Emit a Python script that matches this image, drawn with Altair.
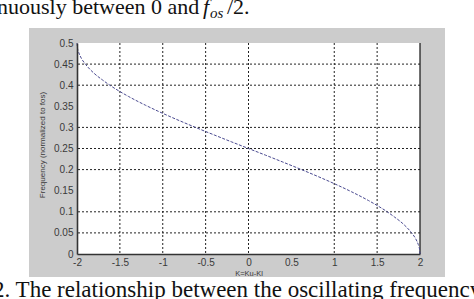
import altair as alt
import pandas as pd

# curve values
k_vals = [-2, -1.995, -1.99, -1.98, -1.95, -1.9, -1.8, -1.7, -1.6, -1.5, -1.4, -1.2, -1.0,
          -0.8, -0.6, -0.4, -0.2, 0, 0.2, 0.4, 0.6, 0.8, 1.0, 1.2, 1.4, 1.5, 1.6,
          1.7, 1.8, 1.9, 1.95, 1.98, 1.99, 1.995, 2]
f_vals = [0.5, 0.4887, 0.484, 0.4775, 0.464, 0.4495, 0.428, 0.412, 0.3976, 0.385, 0.3734,
          0.3524, 0.3333, 0.3155, 0.2985, 0.2821, 0.2659, 0.25, 0.2341, 0.2179, 0.2015,
          0.1845, 0.1667, 0.1476, 0.1266, 0.115, 0.1024, 0.088, 0.072, 0.0505, 0.036,
          0.0225, 0.016, 0.0113, 0]

x_ticks = [-2, -1.5, -1, -0.5, 0, 0.5, 1, 1.5, 2]
y_ticks = [0, 0.05, 0.1, 0.15, 0.2, 0.25, 0.3, 0.35, 0.4, 0.45, 0.5]
grid_x = [-1.5, -1, -0.5, 0, 1, 1.5]
grid_y = [0.05, 0.1, 0.2, 0.25, 0.3, 0.4, 0.45]

x_title = "K=Ku-Kl"
y_title = "Frequency (normalized to fos)"

top_text = "nuously between 0 and"
bottom_text = "2. The relationship between the oscillating frequency"

W, H = 343, 211

xs = alt.Scale(domain=[-2, 2], nice=False, zero=False)
ys = alt.Scale(domain=[0, 0.5], nice=False, zero=False)

curve = pd.DataFrame({"K": k_vals, "F": f_vals})

label_col = "#3a3a3a"

xax = alt.Axis(
    values=x_ticks, labelExpr="'' + datum.value", grid=False, ticks=False,
    domainColor="#333333", domainWidth=1.6, labelFont="Liberation Sans",
    labelFontSize=10, labelColor=label_col, labelPadding=3, labelFlush=False,
    labelOverlap=False,
    title=x_title, titleFont="Liberation Sans", titleFontSize=7.5,
    titleFontWeight="normal", titleColor=label_col, titlePadding=2, zindex=1)
yax = alt.Axis(
    values=y_ticks, labelExpr="'' + datum.value", grid=False, ticks=False,
    domainColor="#333333", domainWidth=1.6, labelFont="Liberation Sans",
    labelFontSize=10, labelColor=label_col, labelPadding=4, labelOverlap=False,
    labelFlush=False,
    title=y_title, titleFont="Liberation Sans", titleFontSize=8,
    titleFontWeight="normal", titleColor=label_col, titleX=-35, titleY=H / 2 - 4,
    titleAlign="center", titleBaseline="middle", titleAngle=270, zindex=1)

gray = alt.Chart(pd.DataFrame({"a": [0]})).mark_rect(color="#cccccc").encode(
    x=alt.value(-48), x2=alt.value(368), y=alt.value(-15), y2=alt.value(234))

white = alt.Chart(pd.DataFrame({"x1": [-2], "x2": [2], "y1": [0], "y2": [0.5]})).mark_rect(
    color="white").encode(
    x=alt.X("x1:Q", scale=xs, axis=xax), x2="x2:Q",
    y=alt.Y("y1:Q", scale=ys, axis=yax), y2="y2:Q")

vgrid = alt.Chart(pd.DataFrame({"g": grid_x})).mark_rule(
    color="#222222", strokeDash=[2, 2], strokeWidth=1).encode(
    x=alt.X("g:Q", scale=xs, axis=xax))
hgrid = alt.Chart(pd.DataFrame({"g": grid_y})).mark_rule(
    color="#222222", strokeDash=[2, 2], strokeWidth=1).encode(
    y=alt.Y("g:Q", scale=ys, axis=yax))
right_edge = alt.Chart(pd.DataFrame({"g": [2]})).mark_rule(
    color="#111111", strokeWidth=1.2).encode(x=alt.X("g:Q", scale=xs, axis=xax))

line = alt.Chart(curve).mark_line(
    color="#4a4a90", strokeWidth=1, strokeDash=[3, 1.5], interpolate="monotone").encode(
    x=alt.X("K:Q", scale=xs, axis=xax), y=alt.Y("F:Q", scale=ys, axis=yax))

serif = "Liberation Serif"
t1 = alt.Chart(pd.DataFrame({"t": [top_text]})).mark_text(
    font=serif, fontSize=22, align="left", baseline="alphabetic", color="#111111").encode(
    x=alt.value(-80), y=alt.value(-29), text="t:N")
t2 = alt.Chart(pd.DataFrame({"t": ["f"]})).mark_text(
    font=serif, fontSize=22, fontStyle="italic", align="left", baseline="alphabetic",
    color="#111111").encode(x=alt.value(126), y=alt.value(-29), text="t:N")
t3 = alt.Chart(pd.DataFrame({"t": ["os"]})).mark_text(
    font=serif, fontSize=15, fontStyle="italic", align="left", baseline="alphabetic",
    color="#111111").encode(x=alt.value(133), y=alt.value(-25), text="t:N")
t4 = alt.Chart(pd.DataFrame({"t": ["/2."]})).mark_text(
    font=serif, fontSize=22, align="left", baseline="alphabetic", color="#111111").encode(
    x=alt.value(150), y=alt.value(-29), text="t:N")
b1 = alt.Chart(pd.DataFrame({"t": [bottom_text]})).mark_text(
    font=serif, fontSize=23, align="left", baseline="alphabetic", color="#111111").encode(
    x=alt.value(-84), y=alt.value(254), text="t:N")

chart = alt.layer(gray, white, vgrid, hgrid, right_edge, line, t1, t2, t3, t4, b1).properties(
    width=W, height=H,
    autosize=alt.AutoSizeParams(type="none"),
    padding={"left": 77, "top": 43, "right": 474 - 77 - W, "bottom": 299 - 43 - H},
    background="white",
).configure_view(stroke=None)

chart.save("out.html", embed_options={"renderer": "svg", "actions": False})
